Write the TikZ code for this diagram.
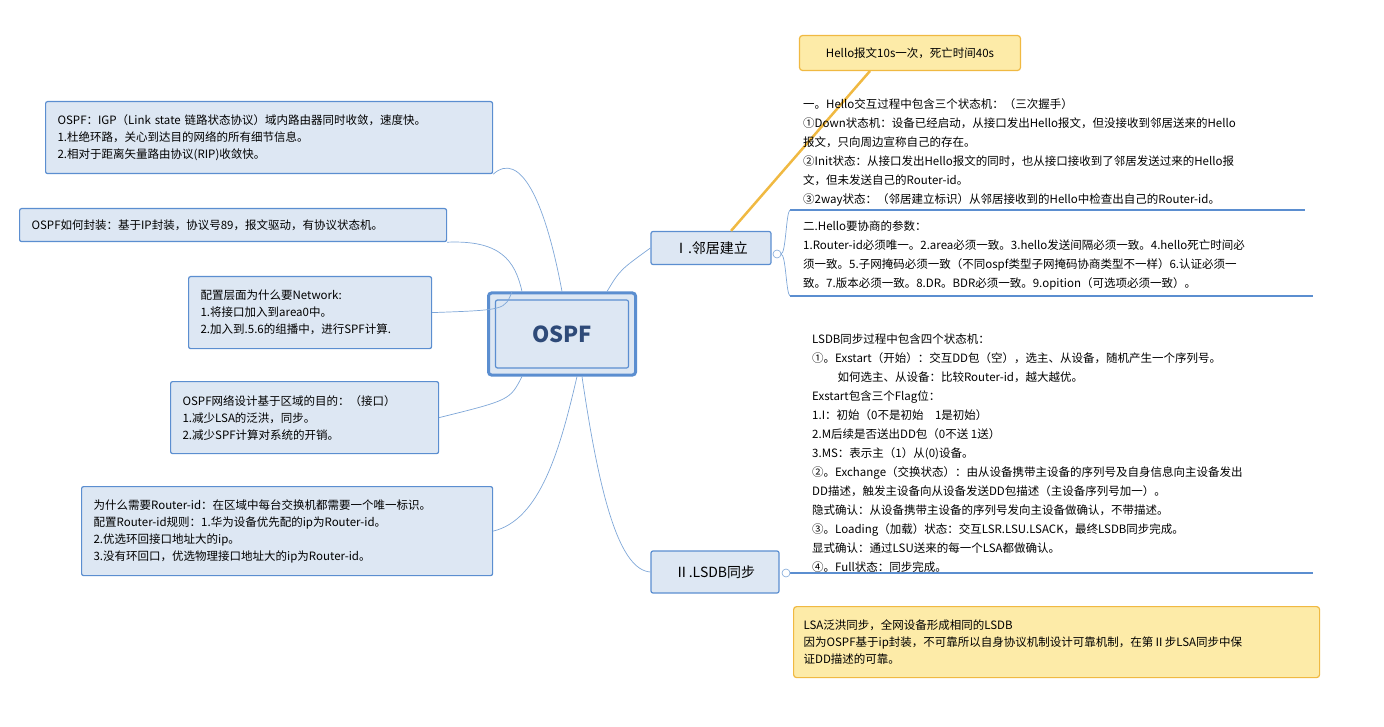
\documentclass[tikz,border=0pt]{standalone}
\usepackage{fontspec}
\setmainfont{Noto Sans CJK SC}
\begin{document}
\begin{tikzpicture}[x=1pt,y=-1pt,
  lbox/.style={draw=blbd,fill=blfill,line width=1.2pt,rounded corners=2pt,anchor=north west,inner xsep=12pt,inner ysep=5pt,align=left,font=\fontsize{11.5}{17}\selectfont},
  ybox/.style={draw=ybd,fill=yfill,line width=1.2pt,rounded corners=3pt,anchor=north west,inner xsep=10pt,inner ysep=6pt,align=left,font=\fontsize{11.5}{17}\selectfont},
  txt/.style={anchor=north west,inner sep=0pt,align=left,font=\fontsize{11.5}{19}\selectfont},
  con/.style={draw=cline,line width=0.7pt},
  uline/.style={draw=uln,line width=2pt}]
\definecolor{blbd}{HTML}{5B8ED0}
\definecolor{blfill}{HTML}{DDE7F3}
\definecolor{ybd}{HTML}{F0B942}
\definecolor{yfill}{HTML}{FDEBA8}
\definecolor{cline}{HTML}{7FA7D8}
\definecolor{uln}{HTML}{5B8ED0}
\definecolor{ctr}{HTML}{2E4A78}
\useasboundingbox (0,0) rectangle (1384,727);
% center
\node[draw=blbd,line width=3pt,fill=blfill,minimum width=147pt,minimum height=82pt,rounded corners=3pt] (c) at (562,334) {};
\node[draw=blbd,line width=1.2pt,minimum width=133pt,minimum height=68pt,rounded corners=2pt,font=\fontsize{22}{26}\selectfont\bfseries,text=ctr] (ospf) at (562,334) {OSPF};
% left boxes
\node[lbox,text width=423pt,minimum height=72pt] (b1) at (45,101) {OSPF：IGP（Link state 链路状态协议）域内路由器同时收敛，速度快。\\1.杜绝环路，关心到达目的网络的所有细节信息。\\2.相对于距离矢量路由协议(RIP)收敛快。};
\node[lbox,text width=403pt,minimum height=33pt] (b2) at (19,208) {OSPF如何封装：基于IP封装，协议号89，报文驱动，有协议状态机。};
\node[lbox,text width=219pt,minimum height=72pt] (b3) at (188,276) {配置层面为什么要Network:\\1.将接口加入到area0中。\\2.加入到.5.6的组播中，进行SPF计算.};
\node[lbox,text width=244pt,minimum height=72pt] (b4) at (170,381) {OSPF网络设计基于区域的目的：（接口）\\1.减少LSA的泛洪，同步。\\2.减少SPF计算对系统的开销。};
\node[lbox,text width=387pt,minimum height=89pt] (b5) at (81,486) {为什么需要Router-id：在区域中每台交换机都需要一个唯一标识。\\配置Router-id规则：1.华为设备优先配的ip为Router-id。\\2.优选环回接口地址大的ip。\\3.没有环回口，优选物理接口地址大的ip为Router-id。};
% right nodes
\node[lbox,anchor=center,inner xsep=8pt,minimum width=120pt,minimum height=33pt,font=\fontsize{14}{17}\selectfont] (n1) at (711,248) {Ⅰ.邻居建立};
\node[lbox,anchor=center,inner xsep=8pt,minimum width=128pt,minimum height=42pt,font=\fontsize{14}{17}\selectfont] (n2) at (715,572) {Ⅱ.LSDB同步};
% connectors
\draw[con] (c.north) .. controls (545,200) and (520,150) .. (b1.south east);
\draw[con] (c.north west) ++(35,0) .. controls (515,260) and (500,240) .. (b2.south east);
\draw[con] (c.north west) ++(25,0) .. controls (505,310) .. (b3.east);
\draw[con] (c.south west) ++(35,0) .. controls (510,400) .. (b4.east);
\draw[con] (c.south) ++(15,0) .. controls (560,450) and (540,520) .. (b5.east);
\draw[con] (c.north east) ++(-30,0) .. controls (620,270) .. (n1.west);
\draw[con] (c.south east) ++(-55,0) .. controls (600,500) and (620,570) .. (n2.west);
% callouts
\node[ybox,minimum width=221pt,minimum height=35pt,anchor=center,align=center] (y1) at (910,53) {Hello报文10s一次，死亡时间40s};
\node[ybox,text width=506pt,minimum height=71pt] (y2) at (793,606) {LSA泛洪同步，全网设备形成相同的LSDB\\因为OSPF基于ip封装，不可靠所以自身协议机制设计可靠机制，在第Ⅱ步LSA同步中保\\证DD描述的可靠。};
\coordinate (yt) at (870,71);
\draw[ybd,line width=2.5pt] (n1.north) ++(20,0) -- (yt);
% text blocks
\node[txt] (t1) at (803,98) {一。Hello交互过程中包含三个状态机：（三次握手）\\①Down状态机：设备已经启动，从接口发出Hello报文，但没接收到邻居送来的Hello\\报文，只向周边宣称自己的存在。\\②Init状态：从接口发出Hello报文的同时，也从接口接收到了邻居发送过来的Hello报\\文，但未发送自己的Router-id。\\③2way状态：（邻居建立标识）从邻居接收到的Hello中检查出自己的Router-id。};
\node[txt] (t2) at (803,221) {二.Hello要协商的参数：\\1.Router-id必须唯一。2.area必须一致。3.hello发送间隔必须一致。4.hello死亡时间必\\须一致。5.子网掩码必须一致（不同ospf类型子网掩码协商类型不一样）6.认证必须一\\致。7.版本必须一致。8.DR。BDR必须一致。9.opition（可选项必须一致）。};
\node[txt] (t3) at (812,334) {LSDB同步过程中包含四个状态机：\\①。Exstart（开始）：交互DD包（空），选主、从设备，随机产生一个序列号。\\\hspace*{2.2em}如何选主、从设备：比较Router-id，越大越优。\\Exstart包含三个Flag位：\\1.I：初始（0不是初始\quad 1是初始）\\2.M后续是否送出DD包（0不送 1送）\\3.MS：表示主（1）从(0)设备。\\②。Exchange（交换状态）：由从设备携带主设备的序列号及自身信息向主设备发出\\DD描述，触发主设备向从设备发送DD包描述（主设备序列号加一）。\\隐式确认：从设备携带主设备的序列号发向主设备做确认，不带描述。\\③。Loading（加载）状态：交互LSR.LSU.LSACK，最终LSDB同步完成。\\显式确认：通过LSU送来的每一个LSA都做确认。\\④。Full状态：同步完成。};
\coordinate (u1a) at (790,210); \coordinate (u1b) at (1305,210);
\coordinate (u2a) at (790,296); \coordinate (u2b) at (1313,296);
\coordinate (u3a) at (790,573); \coordinate (u3b) at (1313,573);
\draw[uline] (u1a) -- (u1b);
\draw[uline] (u2a) -- (u2b);
\draw[uline] (u3a) -- (u3b);
\coordinate (m1) at (777,254);
\coordinate (m2) at (786,573);
\draw[con] (781,254) .. controls (786,254) and (786,212) .. (u1a);
\draw[con] (781,254) .. controls (786,254) and (786,294) .. (u2a);
\draw[cline,fill=white,line width=0.6pt] (m1) circle (4);
\draw[cline,fill=white,line width=0.6pt] (m2) circle (4);
\end{tikzpicture}
\end{document}
